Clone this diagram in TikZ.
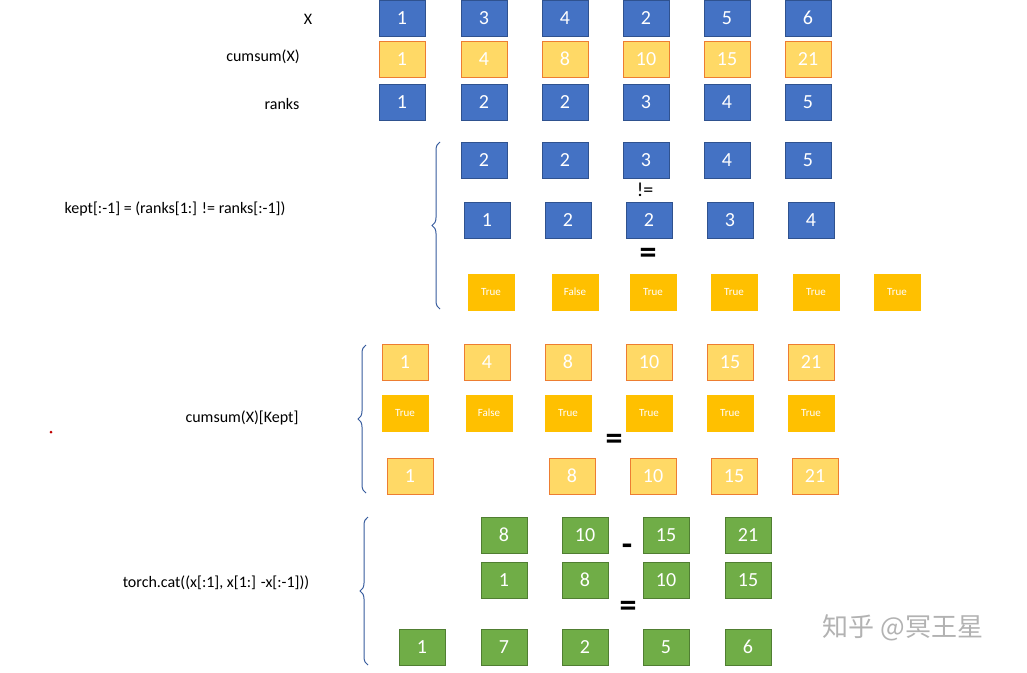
\documentclass[tikz,border=0pt]{standalone}
\usepackage{fontspec}
\setmainfont{Carlito}
\newfontfamily\cjk{Noto Sans CJK SC}
\usetikzlibrary{decorations.pathreplacing}
\definecolor{bl}{HTML}{4472C4}\definecolor{blb}{HTML}{2F528F}
\definecolor{ly}{HTML}{FFD966}\definecolor{or}{HTML}{FFC000}\definecolor{orb}{HTML}{ED7D31}
\definecolor{gr}{HTML}{70AD47}\definecolor{grb}{HTML}{507E32}
\begin{document}
\begin{tikzpicture}[x=1pt,y=-1pt,
 bx/.style={minimum width=46pt,minimum height=36pt,inner sep=0pt,font=\fontsize{20}{22}\selectfont,line width=0.8pt},
 B/.style={bx,fill=bl,draw=blb,text=white},
 Y/.style={bx,fill=ly,draw=orb,text=white},
 T/.style={bx,fill=or,draw=or,text=white,font=\fontsize{11}{13}\selectfont},
 G/.style={bx,fill=gr,draw=grb,text=white},
 lab/.style={font=\fontsize{16}{18}\selectfont},
 op/.style={font=\fontsize{34}{34}\selectfont\bfseries},
 br/.style={draw=bl!80!black,line width=1pt,decorate,decoration={brace,amplitude=8pt,mirror}}]
\useasboundingbox (0,0) rectangle (1027,672);
\node[lab] (lx) at (308,19) {X};
\node[lab] (lc) at (263,57) {cumsum(X)};
\node[lab] (lr) at (282,104) {ranks};
\foreach \v/\x [count=\i] in {1/402,3/484,4/565,2/646,5/727,6/808} \node[B] (x\i) at (\x,18) {\v};
\foreach \v/\x [count=\i] in {1/402,4/484,8/565,10/646,15/727,21/808} \node[Y] (c\i) at (\x,59) {\v};
\foreach \v/\x [count=\i] in {1/402,2/484,2/565,3/646,4/727,5/808} \node[B] (r\i) at (\x,102) {\v};
% section 2
\node[lab] (l2) at (175,209) {kept[:-1] = (ranks[1:] != ranks[:-1])};
\coordinate (b2t) at (440,142); \coordinate (b2b) at (440,309);
\draw[br] (b2t) -- (b2b);
\foreach \v/\x [count=\i] in {2/484,2/565,3/646,4/727,5/808} \node[B] (a\i) at (\x,160) {\v};
\node[font=\fontsize{20}{22}\selectfont] (ne) at (645,190) {!=};
\foreach \v/\x [count=\i] in {1/487,2/568,2/649,3/730,4/811} \node[B] (b\i) at (\x,220) {\v};
\node[op] (eq1) at (648,256) {=};
\foreach \v/\x [count=\i] in {True/491,False/575,True/653,True/734,True/816,True/897} \node[T] (t\i) at (\x,292) {\v};
% section 3
\node[lab] (l3) at (242,418) {cumsum(X)[Kept]};
\fill[red!75!black] (51,432) circle (1.5);
\coordinate (b3t) at (366,345); \coordinate (b3b) at (366,493);
\draw[br] (b3t) -- (b3b);
\foreach \v/\x [count=\i] in {1/405,4/487,8/568,10/649,15/730,21/811} \node[Y] (d\i) at (\x,362) {\v};
\foreach \v/\x [count=\i] in {True/405,False/489,True/568,True/649,True/730,True/811} \node[T] (u\i) at (\x,413) {\v};
\node[op] (eq2) at (614,442) {=};
\foreach \v/\x [count=\i] in {1/410,8/572,10/653,15/734,21/815} \node[Y] (e\i) at (\x,476) {\v};
% section 4
\node[lab] (l4) at (216,583) {torch.cat((x[:1], x[1:] -x[:-1]))};
\coordinate (b4t) at (368,517); \coordinate (b4b) at (368,665);
\draw[br] (b4t) -- (b4b);
\foreach \v/\x [count=\i] in {8/504,10/585,15/666,21/748} \node[G] (f\i) at (\x,535) {\v};
\node[op] (mi) at (627,550) {-};
\foreach \v/\x [count=\i] in {1/504,8/585,10/666,15/748} \node[G] (g\i) at (\x,580) {\v};
\node[op] (eq3) at (628,609) {=};
\foreach \v/\x [count=\i] in {1/422,7/504,2/585,5/666,6/748} \node[G] (h\i) at (\x,647) {\v};
\node[font=\cjk\fontsize{26}{28}\selectfont,text=gray!60] (wm) at (903,628) {知乎 @冥王星};
\end{tikzpicture}
\end{document}
